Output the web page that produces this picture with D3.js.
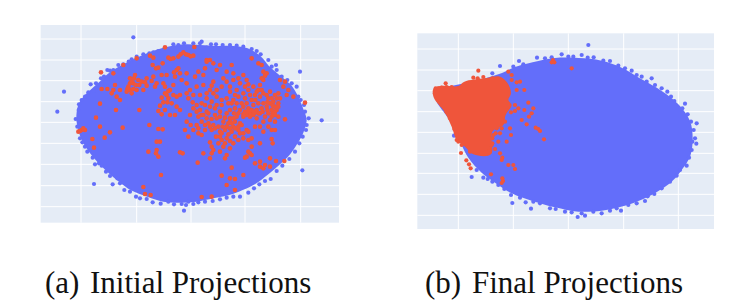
<!DOCTYPE html>
<html><head><meta charset="utf-8">
<script src="https://cdn.jsdelivr.net/npm/d3@7"></script>
<style>html,body{margin:0;background:#fff}svg{display:block}</style></head>
<body><svg id="c" width="731" height="301"></svg>
<script>
// All values are readings in plot units (3 units = 1 reference pixel).
const captionTags=["(a)","(b)"];
const captionTitles=["Initial Projections","Final Projections"];
const blueColor="#636EFA", redColor="#EF553B", bgColor="#E5ECF6";

const aXTicks=[153,320,483,645,812];
const aYTicks=[72,135,197,260,322,385,448,512,575];
const aBlueBody=[[139,312],[144,272],[158,248],[180,226],[207,202],[234,176],[266,155],[300,138],[340,119],[380,104],[420,94],[465,88],[510,90],[560,93],[610,93],[653,100],[692,124],[716,152],[747,179],[781,208],[801,238],[820,282],[830,315],[820,353],[801,388],[781,417],[752,446],[717,476],[677,506],[638,525],[598,540],[550,550],[500,560],[450,563],[400,560],[352,545],[303,526],[268,501],[238,476],[208,447],[178,412],[154,373],[144,340]];
const aBlueEdge=[[310,67],[102,230],[82,290],[192,507],[875,316],[817,466],[810,170],[515,80],[462,587],[468,570],
[147,268],[146,285],[137,312],[142,335],[150,370],[157,382],[165,395],[172,410],[180,405],[188,428],[195,448],[207,445],[215,452],[228,470],[240,483],[248,508],[262,490],[270,505],[283,525],[300,530],[318,545],[330,550],[350,552],[368,562],[392,566],[415,560],[432,568],[455,567],[475,560],[490,567],[505,562],[525,560],[548,558],[570,553],[590,548],[610,545],[630,545],[655,533],[672,520],[688,508],[705,498],[722,492],[740,468],[757,452],[778,432],[795,410],[808,385],[818,365],[828,345],[830,330],[836,310],[825,290],[822,270],[812,255],[805,245],[800,215],[785,205],[772,195],[755,185],[740,165],[738,150],[725,155],[715,135],[692,118],[680,108],[665,102],[640,95],[620,92],[600,90],[578,90],[558,88],[543,88],[530,98],[510,85],[490,85],[462,85],[445,90],[430,88],[405,100],[385,108],[370,112],[358,115],[340,118],[320,125],[305,133],[296,140],[280,148],[265,150],[250,165],[240,167],[232,165],[222,185],[213,190],[198,205],[182,208],[190,228],[175,232],[165,245],[155,255]];
const aRed=[[405,97],[493,96],[213,172],[250,175],[280,150],[320,130],[825,263],
[360,122],[370,128],[415,128],[422,132],[430,130],[445,125],[452,118],[460,112],[468,118],[475,120],[482,124],[490,122],[368,150],[385,158],[398,145],[378,160],
[300,190],[315,180],[325,195],[310,205],[295,215],[320,225],[305,235],[290,230],[335,200],[350,190],[370,185],[380,205],[350,212],[375,215],[305,200],[318,210],[300,225],[312,190],[328,210],[300,205],[292,222],[310,222],[345,202],
[250,225],[245,235],[260,245],[270,255],[215,222],[210,266],[258,285],[198,308],[210,335],[240,352],[278,338],[328,285],[155,345],[145,350],[165,345],[150,348],[160,340],[187,372],[224,368],[192,398],
[358,330],[385,342],[398,343],[380,380],[390,380],[380,405],[385,425],[378,415],[355,410],[450,412],[458,415],[393,480],[340,516],[345,537],[362,540],[515,546],[545,545],[615,525],[590,510],[600,490],[615,492],[640,480],[575,482],[605,458],[503,443],[520,415],[545,415],[540,430],[550,405],[585,430],[590,420],[655,410],[650,425],[665,420],[645,428],[660,415],[700,460],[690,455],[720,430],[738,438],[763,438],[675,445],[725,372],[728,385],[690,385],[665,395],
[440,165],[450,175],[435,185],[455,195],[420,225],[410,240],[430,240],[440,245],[400,262],[425,265],[440,275],[450,285],[385,288],[395,298],[420,300],[435,300],
[470,235],[480,225],[500,215],[520,180],[495,185],[540,135],[550,145],[530,140],[570,150],[590,170],[605,150],[610,175],[630,205],[650,195],[665,130],[685,145],[695,150],[700,170],[710,175],[695,190],[750,195],[765,200],[760,215],[745,235],[770,240],[790,245],[775,225],[705,182],[700,195],
[540,225],[550,235],[530,250],[515,265],[500,270],[490,280],[510,285],[525,270],[545,260],[560,270],[575,255],[590,250],[610,255],[625,245],[640,235],[655,225],[670,215],[685,225],[700,235],[715,250],[730,260],[745,265],[740,285],[745,305],[735,320],[720,315],[705,305],[690,295],[675,290],[660,295],[645,290],[630,285],[615,280],[600,285],[590,295],[600,310],[615,320],[630,325],[610,335],[595,325],[580,320],[565,335],[550,330],[535,325],[515,320],[500,330],[490,345],[505,355],[525,345],[545,345],[570,350],[585,345],[605,350],[625,345],[640,355],[615,365],[590,370],[575,375],[565,385],[580,395],[570,410],[540,382],
[660,305],[670,300],[680,285],[695,280],[710,275],[725,285],[715,295],[650,300],[640,305],[655,280],[670,270],[685,265],[650,265],[635,265],[620,265],[605,265],[690,245],[675,240],[660,240],[735,275],[700,265],[720,265],[735,300],[700,320],[680,310],
[665,285],[650,292],[640,297],[672,295],[658,288],[685,295],[698,290],[712,285],[728,295],[725,305],[735,290],[745,275],[620,305],[610,310],[600,320],[590,335],[605,325],[615,340],[625,335],[578,335],[575,355],[595,358],[585,385],[570,365],[600,340],[555,340],[540,335],[525,330],[635,330],[630,355],[650,345],[680,230],[695,225],[710,240],[725,250],[740,250],[665,255],[645,250],[595,265],[575,270],[555,280],[540,275],[530,290],[505,305],[515,300],
[480,300],[470,320],[465,345],[475,365],[520,300],[535,295],[555,300],[570,290],[560,310],[600,215],[575,215],[550,200],[580,190],[520,210],[470,205],[430,210],[400,205],[405,235],[655,350],[665,370],[655,375],[700,350],[735,345],[765,313],[415,250],[450,240],[490,240],[510,240],[620,225],[645,215],
[432,172],[445,160],[405,215],[415,228],[395,248],[412,262],[390,272],[405,285],[500,290],[488,262],[475,250],[530,235],[560,245],[545,212],[560,225],[590,200],[610,195],[625,190],[640,180],[600,230],[615,240],[655,208],[690,210],[720,230],[735,240],[750,250],[728,272],[712,262],[676,255],[640,275],[625,295],[612,295],[585,308],[570,305],[545,312],[530,310],[505,340],[482,330],[515,360],[558,365],[600,378],[625,375],[610,385],[640,370],[675,335],[690,335],[715,335],[725,345],[600,400],[545,395],[530,135],[560,165],[525,160],[505,170],[470,175],[410,180],[395,180],[270,225],[255,210],[232,222],[340,225],[365,198],[690,440],[705,450],[720,455]];

const bXTicks=[160,325,490,656,820];
const bYTicks=[72,135,197,260,322,385,445,508,571];
const bBlueBody=[[90,200],[130,185],[200,170],[280,148],[330,126],[400,108],[450,99],[520,99],[590,107],[650,128],[710,163],[770,198],[820,238],[855,288],[863,340],[856,392],[832,432],[802,468],[752,503],[702,527],[642,547],[590,557],[520,560],[450,547],[380,527],[320,505],[270,473],[230,443],[190,398],[165,350],[130,280],[95,230]];
const bBlueEdge=[[550,60],[875,295],[874,356],[870,340],[200,456],[322,534],[378,551],[518,576],[540,572],[590,565],[648,557],[720,528],[840,236],[285,123],[262,145],[342,108],[396,98],[470,88],[490,95],[505,95],[530,90],[548,98],[566,97],[595,107],[615,108],[640,122],[660,130],[680,137],[695,150],[710,155],[725,170],[740,160],[750,180],[770,190],[787,200],[798,215],[808,228],[832,250],[848,268],[858,290],[866,315],[862,350],[860,375],[852,398],[845,422],[825,435],[815,452],[795,470],[770,490],[748,507],[728,514],[695,535],[670,540],[635,550],[615,557],[565,560],[530,565],[500,562],[480,560],[452,552],[435,550],[405,535],[385,530],[362,532],[345,518],[318,510],[298,492],[280,480],[262,470],[248,462],[235,458],[215,435],[147,332],[325,125],[355,118],[420,100],[440,97]];
const bRedBody=[[85,192],[105,183],[160,183],[178,170],[240,160],[285,155],[308,175],[318,205],[310,225],[320,240],[302,270],[295,300],[262,320],[258,388],[205,388],[180,365],[155,345],[140,305],[115,255],[92,228],[84,210]];
const bRed=[[122,175],[220,137],[205,158],[218,160],[235,156],[262,160],[310,140],[320,150],[335,172],[345,170],[320,165],[335,195],[358,195],[370,233],[385,250],[380,265],[372,275],[358,255],[340,250],[330,258],[318,262],[350,285],[365,298],[400,312],[392,308],[405,318],[417,343],[300,290],[315,310],[318,330],[305,350],[280,350],[272,325],[290,310],[262,340],[270,372],[285,385],[290,405],[292,398],[168,384],[184,406],[192,418],[197,430],[148,312],[155,345],[310,420],[325,420],[330,432],[258,448],[292,460],[294,468],[290,474],[444,105],[440,112],[448,112],[500,130],[260,360],[250,370],[300,240],[330,240],[275,310],[285,325],[265,330],[262,355],[255,375],
[92,190],[100,190],[110,188],[125,186],[140,186],[90,205],[98,222],[110,240],[125,262],[135,280],[160,350],[170,360],[195,380]];

const svg=d3.select("#c");
const defs=svg.append("defs");
defs.append("filter").attr("id","soft").attr("x","-5%").attr("y","-5%").attr("width","110%").attr("height","110%")
  .append("feGaussianBlur").attr("stdDeviation",0.4);

function panel(o){
  const x=d3.scaleLinear().domain([0,o.w]).range([o.px,o.px+o.w/3]);
  const y=d3.scaleLinear().domain([0,o.h]).range([o.py,o.py+o.h/3]);
  const g=svg.append("g").attr("filter","url(#soft)");
  g.append("rect").attr("x",x(o.x0)).attr("y",y(o.y0)).attr("width",x(o.x1)-x(o.x0)).attr("height",y(o.y1)-y(o.y0)).attr("fill",bgColor);
  g.selectAll(".vg").data(o.xt).join("line").attr("x1",x).attr("x2",x).attr("y1",y(o.y0)).attr("y2",y(o.y1)).attr("stroke","#fff").attr("stroke-width",1);
  g.selectAll(".hg").data(o.yt).join("line").attr("y1",y).attr("y2",y).attr("x1",x(o.x0)).attr("x2",x(o.x1)).attr("stroke","#fff").attr("stroke-width",1);
  const area=d3.line().x(d=>x(d[0])).y(d=>y(d[1])).curve(d3.curveCatmullRomClosed);
  g.append("path").attr("d",area(o.body)).attr("fill",blueColor);
  g.selectAll(".be").data(o.edge).join("circle").attr("cx",d=>x(d[0])).attr("cy",d=>y(d[1])).attr("r",2.1).attr("fill",blueColor);
  if(o.redBody) g.append("path").attr("d",area(o.redBody)).attr("fill",redColor);
  g.selectAll(".re").data(o.red).join("circle").attr("cx",d=>x(d[0])).attr("cy",d=>y(d[1])).attr("r",o.redR).attr("fill",redColor);
}
panel({px:30,py:15,w:960,h:660,x0:32,x1:927,y0:30,y1:623,xt:aXTicks,yt:aYTicks,body:aBlueBody,edge:aBlueEdge,red:aRed,redR:2.3});
panel({px:405,py:25,w:960,h:645,x0:37,x1:927,y0:25,y1:612,xt:bXTicks,yt:bYTicks,body:bBlueBody,edge:bBlueEdge,red:bRed,redBody:bRedBody,redR:2.1});

const capFont=g=>g.attr("y",293).attr("font-family","'Liberation Serif',serif").attr("font-size",31).attr("fill","#111");
svg.selectAll(".tag").data(captionTags).join("text").attr("x",(d,i)=>[45,425][i]).call(capFont).text(d=>d);
svg.selectAll(".ttl").data(captionTitles).join("text").attr("x",(d,i)=>[90,472][i]).call(capFont).text(d=>d);
</script></body></html>
